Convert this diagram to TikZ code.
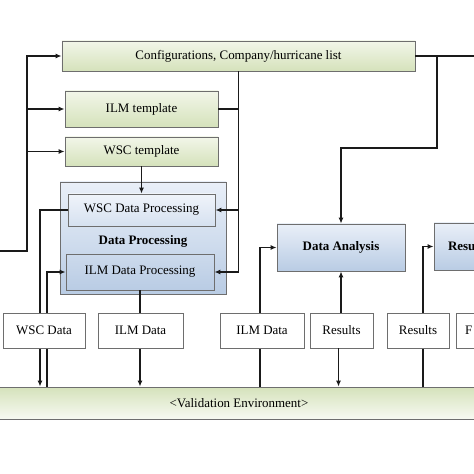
\documentclass[tikz,border=0pt]{standalone}
\usepackage{fontspec}
\setmainfont{Liberation Serif}
\usetikzlibrary{arrows.meta}
\definecolor{gtop}{HTML}{F2F6E9}
\definecolor{gbot}{HTML}{D5E2BB}
\definecolor{btop}{HTML}{E9EFF8}
\definecolor{bbot}{HTML}{B9CCE4}
\definecolor{boxgray}{HTML}{6E6E6E}
\definecolor{linec}{HTML}{1A1A1A}
\newcommand\figfont{\fontsize{13}{15}\selectfont}
\tikzset{
  base/.style={draw=boxgray, line width=0.8bp, inner sep=0pt, font=\figfont},
  gbox/.style={base, top color=gtop, bottom color=gbot},
  bbox/.style={base, top color=btop, bottom color=bbot},
  wbox/.style={base, fill=white},
  conn/.style={line width=1.3bp, draw=linec},
  arr/.style={conn, -{Latex[length=6bp,width=5bp]}},
}
\begin{document}
\begin{tikzpicture}[x=1bp,y=-1bp]
\useasboundingbox (0,0) rectangle (474,474);
\clip (0,0) rectangle (474,474);
\fill[white] (0,0) rectangle (474,474);

% top (green) boxes
\node[gbox, minimum width=353bp, minimum height=30bp] (cfg) at (238.5,56) {Configurations, Company/hurricane list};
\node[gbox, minimum width=153bp, minimum height=36bp] (ilmt) at (141.5,109) {ILM template};
\node[gbox, minimum width=153bp, minimum height=29bp] (wsct) at (141.5,151.5) {WSC template};

% data processing group
\node[base, top color=btop, bottom color=bbot, minimum width=166bp, minimum height=112bp] (dp) at (143,238) {};
\node[base, top color=btop!70!white, bottom color=btop!60!bbot, minimum width=147bp, minimum height=32bp] (wscdp) at (141.5,210) {WSC Data Processing};
\node[font=\figfont\bfseries, inner sep=1pt] (dplabel) at (143,241) {Data Processing};
\node[base, top color=btop!40!bbot, bottom color=bbot, minimum width=148bp, minimum height=36bp] (ilmdp) at (140,272) {ILM Data Processing};

% analysis boxes
\node[bbox, minimum width=128bp, minimum height=47bp, font=\figfont\bfseries] (da) at (341,247.5) {Data Analysis};
\node[bbox, minimum width=76bp, minimum height=47bp, text width=48bp, align=left, font=\figfont\bfseries] (resu) at (472,246.5) {Results};

% validation
\node[base, top color=gbot, bottom color=gtop!60!white, minimum width=484bp, minimum height=32bp] (val) at (239,403) {<Validation Environment>};

% coordinates
\coordinate (lin) at (0,251);
\coordinate (lb) at (27,251);
\coordinate (xa) at (40,0);
\coordinate (xb) at (47,0);
\coordinate (xc) at (260,0);
\coordinate (xd) at (423,0);
\coordinate (rout) at (480,56);
\coordinate (rc) at (437,148);

% left bus
\draw[arr] (lin) -- (lb) |- (cfg.west);
\draw[line width=2.6bp, draw=linec] (27,109) -- (lb);
\draw[arr] (lb) |- (ilmt.west);
\draw[arr] (lb) |- (wsct.west);

% right bus from configuration list
\draw[arr] (cfg.south) |- (ilmdp.east);
\draw[conn] (ilmt.east) -- (ilmt.east -| cfg.south);
\draw[arr] (wscdp.east -| cfg.south) -- (wscdp.east);
\draw[arr] (wsct.south) -- (wscdp.north);

% configuration list to the right and to data analysis
\draw[conn] (cfg.east) -- (rout);
\draw[arr] (cfg.east -| rc) -- (rc) -| (da.north);

% lines running behind the data boxes
\draw[arr] (wscdp.west) -| (xa |- val.north);
\draw[arr] (xb |- val.north) |- (ilmdp.west);
\draw[arr] (ilmdp.south) -- (ilmdp.south |- val.north);
\draw[arr] (xc |- val.north) |- (da.west);
\draw[arr] (xd |- val.north) |- (resu.west);

% data boxes
\node[wbox, minimum width=82bp, minimum height=35bp] (wscd) at (44,330.5) {WSC Data};
\node[wbox, minimum width=85bp, minimum height=35bp] (ilmd) at (140.5,330.5) {ILM Data};
\node[wbox, minimum width=84bp, minimum height=35bp] (ilmd2) at (262,330.5) {ILM Data};
\node[wbox, minimum width=63bp, minimum height=35bp] (res1) at (341.5,330.5) {Results};
\node[wbox, minimum width=62bp, minimum height=35bp] (res2) at (418,330.5) {Results};
\node[wbox, minimum width=64bp, minimum height=35bp, text width=46bp, align=left] (fbox) at (488,330.5) {F};

\draw[arr] (res1.north -| da.south) -- (da.south);
\draw[arr] ([xshift=-3bp]res1.south) -- ([xshift=-3bp]res1.south |- val.north);
\end{tikzpicture}
\end{document}
